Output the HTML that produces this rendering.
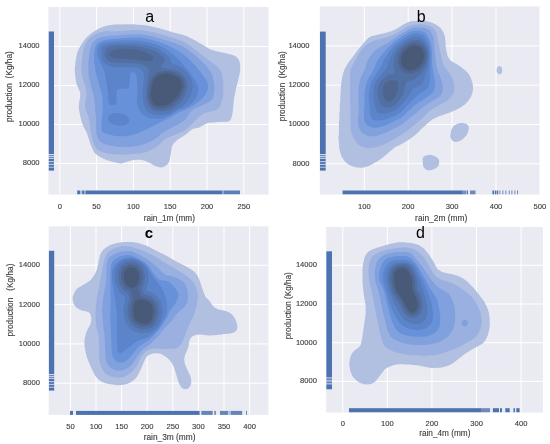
<!DOCTYPE html>
<html><head><meta charset="utf-8"><title>KDE plots</title>
<style>
html,body{margin:0;padding:0;background:#fff;}
body{width:550px;height:444px;overflow:hidden;}
svg{display:block;filter:blur(0.35px);}
.tk{font-family:"Liberation Sans",Arial,sans-serif;font-size:7.60px;fill:#383838;stroke:#444;stroke-width:0.12px;}
.lb{font-family:"Liberation Sans",Arial,sans-serif;font-size:8.30px;fill:#383838;stroke:#444;stroke-width:0.12px;}
.let{font-family:"Liberation Sans",Arial,sans-serif;font-size:16px;fill:#000;}
.letb{font-family:"Liberation Sans",Arial,sans-serif;font-size:15px;font-weight:bold;fill:#000;}
</style></head><body>
<svg width="550" height="444" viewBox="0 0 550 444">
<rect x="0" y="0" width="550" height="444" fill="#ffffff"/>
<defs>
<clipPath id="clipa"><rect x="48.50" y="7.00" width="220.10" height="187.50"/></clipPath>
<clipPath id="clipb"><rect x="319.80" y="6.50" width="220.00" height="188.10"/></clipPath>
<clipPath id="clipc"><rect x="48.70" y="226.30" width="219.70" height="188.60"/></clipPath>
<clipPath id="clipd"><rect x="326.20" y="227.00" width="216.80" height="185.50"/></clipPath>
</defs>
<rect x="48.50" y="7.00" width="220.10" height="187.50" fill="#eaeaf2"/>
<g clip-path="url(#clipa)">
<rect x="59.30" y="7.00" width="1.00" height="187.50" fill="#fff"/>
<rect x="96.10" y="7.00" width="1.00" height="187.50" fill="#fff"/>
<rect x="132.90" y="7.00" width="1.00" height="187.50" fill="#fff"/>
<rect x="169.70" y="7.00" width="1.00" height="187.50" fill="#fff"/>
<rect x="206.50" y="7.00" width="1.00" height="187.50" fill="#fff"/>
<rect x="243.30" y="7.00" width="1.00" height="187.50" fill="#fff"/>
<rect x="48.50" y="46.00" width="220.10" height="1.00" fill="#fff"/>
<rect x="48.50" y="84.97" width="220.10" height="1.00" fill="#fff"/>
<rect x="48.50" y="123.94" width="220.10" height="1.00" fill="#fff"/>
<rect x="48.50" y="162.91" width="220.10" height="1.00" fill="#fff"/>
<path fill="#b1bfe1" fill-rule="evenodd" d="M115.0 24.5 134.0 24.3 137.0 24.7 140.5 24.8 145.5 25.3 152.0 26.4 159.5 28.3 173.5 32.5 181.6 34.5 185.0 35.5 187.5 36.5 194.4 40.0 202.2 44.5 210.0 49.3 214.5 50.8 231.0 54.5 234.0 55.6 236.0 56.7 237.9 58.5 238.9 60.0 239.5 61.6 240.2 64.5 240.1 71.0 239.5 74.2 235.7 90.0 234.1 98.0 233.5 103.5 233.3 107.0 232.2 115.0 231.5 117.6 230.4 120.0 229.0 121.2 227.5 121.7 217.5 121.9 214.5 122.4 210.5 122.6 208.0 123.1 205.0 124.3 199.2 127.5 197.5 128.0 194.0 128.5 192.7 129.0 191.5 129.7 185.5 134.8 177.5 139.8 174.6 142.5 173.3 144.0 172.2 146.0 171.6 148.0 170.6 155.5 169.5 160.4 169.0 161.8 168.0 163.4 166.0 165.4 164.5 166.4 163.0 167.1 161.6 167.5 160.5 167.5 156.3 166.5 154.5 165.8 150.0 163.1 146.0 161.2 144.0 160.5 141.0 159.8 136.0 159.7 133.5 159.9 130.0 160.7 122.5 163.3 120.5 163.5 115.0 162.5 111.5 161.6 106.5 160.0 101.5 157.7 99.0 156.3 96.0 154.3 94.8 153.0 93.2 150.5 90.7 145.0 86.7 132.5 83.5 126.5 82.1 123.0 80.5 117.0 79.4 112.0 78.8 107.5 78.9 104.0 80.2 97.0 80.2 93.0 79.6 91.0 77.6 86.5 76.5 83.5 75.5 78.5 74.9 72.5 74.8 68.0 75.3 65.0 75.4 62.0 76.5 56.0 77.2 53.0 78.8 49.0 80.7 45.5 82.9 42.0 85.6 38.5 89.0 35.2 90.5 33.9 93.5 31.8 99.0 28.5 102.5 26.9 107.5 25.5Z"/>
<path fill="#9ab0e0" fill-rule="evenodd" d="M128.5 30.5 132.0 30.1 143.0 30.2 147.0 30.9 153.5 32.2 173.5 38.1 180.0 40.3 185.0 42.6 191.0 46.6 197.5 51.4 207.0 59.0 216.0 65.5 218.6 68.0 219.9 69.5 221.2 72.0 221.9 74.0 222.8 78.5 223.3 83.0 223.4 92.0 222.7 97.5 222.0 101.0 220.5 105.0 219.0 107.5 217.0 109.4 216.0 110.0 214.0 110.8 206.3 112.5 204.5 113.1 203.0 113.9 198.5 117.3 196.0 119.7 194.0 122.0 192.0 123.7 186.6 129.0 184.8 130.5 182.5 131.8 176.0 134.3 166.3 138.5 162.8 141.0 157.5 146.0 155.5 147.5 152.5 149.2 147.0 151.7 144.7 152.5 139.5 153.5 134.5 154.1 128.0 154.3 125.0 154.7 123.0 154.7 119.5 154.4 113.5 154.2 108.0 153.5 104.5 152.8 100.5 151.4 98.5 150.2 96.5 148.3 95.1 146.5 94.0 144.3 93.0 141.5 91.5 136.1 90.5 130.0 90.2 125.5 89.5 121.0 88.2 116.5 86.0 110.3 85.0 106.0 85.1 103.0 86.6 95.0 86.5 91.5 85.9 88.5 82.3 76.5 81.9 74.5 81.4 70.5 81.3 69.0 81.7 66.0 81.8 60.5 83.0 52.0 83.7 48.5 84.5 46.0 85.5 43.7 86.5 42.0 88.4 39.5 90.5 37.5 93.1 35.5 95.6 34.0 100.0 32.4 105.0 31.3 110.0 31.2 114.5 31.5 118.0 31.1 122.0 31.0 125.0 30.6Z"/>
<path fill="#80a0de" fill-rule="evenodd" d="M129.0 34.5 132.0 34.2 141.5 34.2 145.5 34.9 153.0 36.6 173.3 42.5 177.5 43.9 182.2 46.0 186.9 49.0 192.8 53.5 200.4 60.0 203.5 63.1 206.5 66.5 210.6 72.0 211.8 74.0 212.6 76.0 213.8 81.0 214.4 86.0 214.3 92.5 213.6 96.0 213.0 97.8 212.0 99.5 210.5 101.0 207.5 102.8 201.5 105.6 195.8 108.0 193.1 109.5 189.9 112.5 186.0 118.5 185.0 119.7 183.5 121.1 180.5 123.0 165.0 131.3 161.0 134.0 157.5 137.2 153.5 140.0 147.0 143.0 142.0 144.7 139.0 145.5 133.5 146.4 129.0 147.0 119.0 147.0 111.0 145.8 107.0 144.8 103.5 143.5 101.0 142.2 99.6 141.0 98.5 139.4 97.4 137.0 96.9 135.5 96.2 131.5 96.2 120.5 95.8 117.5 95.6 113.5 95.2 110.5 95.1 107.0 94.6 102.0 93.5 95.5 90.7 85.0 88.4 74.0 88.3 62.5 89.7 51.5 90.8 46.5 91.9 44.0 92.8 42.5 94.5 40.7 96.0 39.4 100.0 37.4 105.5 36.2 111.0 35.7 115.5 35.6 123.5 34.8Z"/>
<path fill="#6791d9" fill-rule="evenodd" d="M126.0 38.0 131.0 37.6 141.5 37.7 149.5 39.3 157.5 41.4 163.5 43.5 171.3 47.0 177.5 50.4 180.5 52.3 187.0 57.4 192.7 63.0 196.0 66.5 204.9 78.0 206.5 80.3 207.5 82.4 207.8 83.5 208.0 87.5 207.3 90.5 206.1 93.5 205.2 95.0 203.2 97.5 201.5 99.2 196.8 103.0 192.4 106.0 188.5 108.3 184.5 110.2 178.9 112.5 169.0 118.3 159.3 123.0 147.5 129.1 139.9 132.5 133.0 134.7 126.0 136.2 117.0 136.2 110.5 135.1 105.5 133.6 103.0 132.2 102.1 131.0 101.7 130.0 101.5 128.5 101.5 124.5 101.8 118.5 102.7 109.0 102.4 97.5 101.5 92.5 96.5 75.0 95.4 70.0 94.2 61.5 94.1 53.0 94.7 49.0 95.7 46.0 96.7 44.5 98.0 43.2 99.0 42.3 100.5 41.5 104.0 40.2 109.5 39.2 120.0 38.5 122.5 38.1Z"/>
<path fill="#5b84ca" fill-rule="evenodd" d="M122.5 40.5 136.0 40.4 144.5 41.4 151.5 43.0 156.5 44.5 162.2 47.0 168.0 50.5 173.3 54.5 179.9 61.0 188.7 71.0 194.3 79.0 195.8 81.5 197.4 84.5 197.9 86.0 198.4 88.5 198.4 90.5 198.1 92.0 197.2 95.0 195.7 98.5 194.8 100.0 193.2 102.0 190.2 104.5 186.3 107.0 183.5 108.3 178.5 110.1 168.8 116.0 165.0 117.6 161.5 118.5 158.0 118.8 154.5 118.8 149.5 117.9 146.5 116.8 143.0 114.6 141.1 113.0 138.9 109.5 137.8 106.5 137.2 103.5 137.0 100.0 137.0 98.0 137.4 94.5 137.3 80.0 136.7 76.5 136.0 74.5 135.4 73.5 134.5 72.7 133.0 72.3 131.6 72.5 131.0 73.0 130.5 73.8 130.0 75.3 129.7 77.5 129.5 85.5 129.0 87.0 128.0 88.0 126.0 88.7 119.5 88.8 118.5 89.0 117.6 89.5 116.9 90.5 116.6 91.5 116.5 101.5 116.0 103.4 115.0 104.4 113.5 105.1 111.5 105.1 110.0 104.4 109.0 102.9 108.2 99.5 107.9 93.5 107.5 91.0 107.2 86.5 105.8 77.5 104.6 72.5 103.4 69.0 102.5 67.0 99.9 62.5 98.2 58.0 97.5 55.5 97.2 53.0 97.6 48.5 98.3 46.5 99.5 44.9 101.0 43.8 104.0 42.6 107.0 41.9 110.5 41.4 116.0 40.9 120.0 40.8ZM118.5 113.0 120.5 113.2 123.5 114.0 125.5 115.0 127.6 116.5 128.8 118.5 129.2 120.5 128.9 122.0 127.7 123.5 126.0 124.7 123.5 125.6 121.5 125.8 117.0 125.6 114.5 125.0 112.1 124.0 110.5 123.0 109.0 121.6 108.0 119.8 107.8 118.5 108.2 117.0 109.5 115.4 111.0 114.3 113.0 113.5 114.5 113.2Z"/>
<path fill="#567ab7" fill-rule="evenodd" d="M113.5 43.5 118.0 43.2 133.0 43.2 139.5 43.8 145.5 44.8 152.0 46.5 155.5 47.7 160.0 49.9 165.0 53.3 167.4 55.5 169.2 57.5 170.3 59.5 171.1 62.0 172.0 63.2 173.5 64.1 177.5 65.6 179.5 66.5 183.5 69.1 187.5 72.9 190.5 77.6 191.5 80.0 192.4 83.0 192.6 85.5 192.6 88.5 191.7 92.5 190.9 95.0 189.3 98.5 187.6 101.0 185.5 103.5 182.1 106.5 171.0 112.7 167.0 114.1 165.0 114.5 161.0 115.0 155.5 114.7 153.0 114.2 151.0 113.5 148.2 112.0 146.4 110.0 145.1 107.5 143.8 104.0 142.8 99.5 142.7 89.5 144.0 77.5 143.5 74.0 143.2 72.5 142.5 71.0 141.5 69.5 140.5 68.7 139.3 68.0 137.0 67.4 129.0 67.3 126.0 67.1 117.0 67.3 112.0 66.5 108.0 65.2 106.0 64.3 104.0 62.7 102.6 60.5 101.4 57.0 101.1 53.5 101.4 49.5 102.2 47.5 103.5 46.0 105.5 44.9 109.5 43.9Z"/>
<path fill="#526fa4" fill-rule="evenodd" d="M117.0 45.5 120.5 45.3 125.0 45.6 132.0 45.7 134.5 46.1 138.0 46.3 144.0 47.5 150.5 49.5 154.5 51.1 159.0 53.5 162.5 56.0 164.8 58.5 165.1 59.0 165.2 60.0 164.5 61.3 161.1 65.5 160.9 66.5 161.0 67.0 161.4 67.5 162.5 68.1 165.5 68.7 171.5 69.3 173.5 69.7 175.5 70.3 178.5 71.7 181.0 73.2 183.4 75.5 185.3 78.0 186.6 80.5 187.4 84.0 187.5 86.0 187.4 88.0 186.7 91.0 185.6 94.0 184.5 96.5 182.3 100.0 180.0 102.8 175.0 106.9 172.0 108.7 169.5 109.9 166.0 110.7 161.0 111.3 156.0 110.9 153.5 110.2 151.5 109.0 149.8 107.0 148.4 104.5 146.9 100.5 146.3 97.5 146.2 92.5 146.6 87.0 147.2 82.5 148.5 76.0 148.9 73.0 148.8 70.5 148.1 68.5 147.0 67.0 144.9 65.5 143.0 64.7 140.0 64.0 136.0 63.4 126.5 63.3 123.0 62.9 113.0 62.7 110.5 62.0 107.8 60.5 106.7 59.5 105.9 58.5 105.2 57.0 104.5 55.0 104.5 54.0 104.7 52.5 105.7 50.0 106.4 49.0 107.4 48.0 109.5 46.8 112.4 46.0Z"/>
<path fill="#4e6590" fill-rule="evenodd" d="M117.5 49.0 122.0 48.6 126.0 48.9 131.0 49.0 137.8 50.0 142.1 51.0 147.4 53.0 150.7 55.0 152.4 56.5 153.1 57.5 153.3 59.0 153.1 60.0 152.5 60.7 151.6 61.0 148.5 61.2 138.5 59.9 135.0 59.7 132.0 59.3 123.0 59.1 120.5 58.7 116.5 58.5 113.4 58.0 111.3 57.0 110.1 56.0 109.5 54.7 109.6 53.5 110.8 52.0 112.7 50.5 115.0 49.5ZM164.5 71.0 168.5 71.2 173.5 72.2 177.5 74.0 180.0 75.6 182.0 77.6 183.7 80.5 184.7 84.5 184.7 86.0 184.5 87.5 183.8 90.0 182.6 93.0 181.0 96.0 178.4 99.5 172.6 105.0 170.5 106.4 169.0 107.1 164.5 108.4 161.0 108.7 156.0 108.5 154.5 108.0 153.5 107.4 151.1 105.0 150.0 103.1 148.6 99.0 148.1 96.5 148.1 93.5 149.5 84.0 150.5 80.5 151.3 78.5 152.9 76.0 155.0 73.8 156.5 72.8 158.5 71.9 161.0 71.4Z"/>
<path fill="#495978" fill-rule="evenodd" d="M162.5 74.0 164.5 73.6 166.5 73.6 170.0 74.1 173.4 75.0 177.2 77.0 179.2 78.5 180.9 81.0 181.8 84.0 181.8 86.5 181.1 89.0 180.2 91.5 178.5 94.5 176.0 97.8 171.2 102.5 168.0 104.5 164.8 105.5 162.0 105.9 157.0 105.8 156.0 105.6 155.0 105.1 153.3 103.5 152.4 102.0 151.3 99.0 150.7 96.5 150.6 94.5 151.7 87.0 152.3 84.0 153.1 81.5 153.9 80.0 155.0 78.3 156.5 76.8 158.5 75.4 160.4 74.5Z"/>
<rect x="48.50" y="31.50" width="5.50" height="122.50" fill="#4c72b0" fill-opacity="1.00"/>
<rect x="48.50" y="154.80" width="5.50" height="1.50" fill="#4c72b0" fill-opacity="0.80"/>
<rect x="48.50" y="157.00" width="5.50" height="1.20" fill="#4c72b0" fill-opacity="0.80"/>
<rect x="48.50" y="158.90" width="5.50" height="2.40" fill="#4c72b0" fill-opacity="1.00"/>
<rect x="48.50" y="162.00" width="5.50" height="2.00" fill="#4c72b0" fill-opacity="0.90"/>
<rect x="48.50" y="164.70" width="5.50" height="2.10" fill="#4c72b0" fill-opacity="1.00"/>
<rect x="48.50" y="167.50" width="5.50" height="3.10" fill="#4c72b0" fill-opacity="1.00"/>
<rect x="77.20" y="190.50" width="2.80" height="4.00" fill="#4c72b0" fill-opacity="1.00"/>
<rect x="80.00" y="190.50" width="2.20" height="4.00" fill="#4c72b0" fill-opacity="0.35"/>
<rect x="82.20" y="190.50" width="1.80" height="4.00" fill="#4c72b0" fill-opacity="1.00"/>
<rect x="84.00" y="190.50" width="1.50" height="4.00" fill="#4c72b0" fill-opacity="0.50"/>
<rect x="85.50" y="190.50" width="136.80" height="4.00" fill="#4c72b0" fill-opacity="1.00"/>
<rect x="222.30" y="190.50" width="1.20" height="4.00" fill="#4c72b0" fill-opacity="0.50"/>
<rect x="223.50" y="190.50" width="16.50" height="4.00" fill="#4c72b0" fill-opacity="0.90"/>
</g>
<text x="59.80" y="209.40" text-anchor="middle" class="tk">0</text>
<text x="96.60" y="209.40" text-anchor="middle" class="tk">50</text>
<text x="133.40" y="209.40" text-anchor="middle" class="tk">100</text>
<text x="170.20" y="209.40" text-anchor="middle" class="tk">150</text>
<text x="207.00" y="209.40" text-anchor="middle" class="tk">200</text>
<text x="243.80" y="209.40" text-anchor="middle" class="tk">250</text>
<text x="39.60" y="48.40" text-anchor="end" class="tk">14000</text>
<text x="39.60" y="87.37" text-anchor="end" class="tk">12000</text>
<text x="39.60" y="126.34" text-anchor="end" class="tk">10000</text>
<text x="39.60" y="165.31" text-anchor="end" class="tk">8000</text>
<text x="143.70" y="221.00" class="lb" textLength="51.2" lengthAdjust="spacingAndGlyphs">rain_1m (mm)</text>
<text transform="translate(12.30,122.00) rotate(-90)" x="0" y="0" class="lb" textLength="70.9" lengthAdjust="spacingAndGlyphs" xml:space="preserve">production  (Kg/ha)</text>
<text x="145.20" y="21.90" class="let">a</text>
<rect x="319.80" y="6.50" width="220.00" height="188.10" fill="#eaeaf2"/>
<g clip-path="url(#clipb)">
<rect x="363.80" y="6.50" width="1.00" height="188.10" fill="#fff"/>
<rect x="407.70" y="6.50" width="1.00" height="188.10" fill="#fff"/>
<rect x="451.60" y="6.50" width="1.00" height="188.10" fill="#fff"/>
<rect x="495.50" y="6.50" width="1.00" height="188.10" fill="#fff"/>
<rect x="539.40" y="6.50" width="1.00" height="188.10" fill="#fff"/>
<rect x="319.80" y="45.40" width="220.00" height="1.00" fill="#fff"/>
<rect x="319.80" y="84.67" width="220.00" height="1.00" fill="#fff"/>
<rect x="319.80" y="123.94" width="220.00" height="1.00" fill="#fff"/>
<rect x="319.80" y="163.21" width="220.00" height="1.00" fill="#fff"/>
<path fill="#b1bfe1" fill-rule="evenodd" d="M415.3 21.0 417.8 20.6 422.3 20.6 426.8 21.2 430.8 22.2 433.3 23.2 436.6 25.0 439.8 27.3 441.3 29.0 443.3 32.0 444.7 36.0 445.4 40.0 445.5 44.5 446.2 50.0 447.3 55.0 448.8 58.3 450.0 60.0 451.3 61.1 458.1 65.0 461.7 67.5 464.8 69.9 468.3 73.6 469.8 75.9 470.8 78.0 472.3 82.4 472.9 85.0 473.0 86.5 472.9 91.0 471.3 96.0 470.3 98.0 468.2 101.0 465.3 104.1 463.6 105.5 460.6 107.5 454.7 110.5 448.5 113.0 439.8 115.9 436.3 117.4 432.3 119.6 427.9 123.0 425.3 125.5 422.4 128.0 415.8 134.5 413.3 136.5 409.8 139.0 405.1 142.0 399.8 144.9 396.3 146.5 394.3 147.8 384.0 156.5 380.8 159.0 377.8 160.9 368.8 166.0 363.7 167.5 361.3 167.7 357.8 167.5 354.3 166.9 350.4 165.5 348.3 164.3 345.4 162.0 342.8 158.6 341.4 156.0 339.8 151.0 339.2 147.5 338.9 142.0 338.5 139.0 338.5 136.5 338.9 133.5 338.9 123.0 339.3 119.5 339.4 113.5 339.8 110.0 339.8 104.0 340.3 100.5 340.3 95.5 340.7 92.5 340.8 87.0 341.4 82.0 342.0 78.0 343.3 72.5 344.7 69.0 348.1 63.0 359.0 48.5 365.8 40.5 369.3 37.3 370.8 36.4 372.3 35.9 385.3 33.1 391.3 31.3 395.3 29.4 399.5 27.0 403.8 24.2 407.3 22.5 409.3 21.8 411.8 21.3ZM498.3 66.4 499.3 66.0 500.8 66.4 501.7 67.5 502.1 68.5 502.2 71.0 501.9 72.5 500.8 73.9 499.8 74.3 498.8 74.3 497.8 73.6 497.1 72.5 496.6 71.0 496.6 70.0 496.9 68.5 497.6 67.0ZM460.3 123.0 462.8 123.0 464.3 123.2 466.3 124.0 467.8 125.0 468.6 126.5 468.7 128.0 468.6 130.0 467.8 132.6 466.9 134.5 465.8 136.0 464.0 138.0 461.5 140.0 459.6 141.0 457.3 141.7 455.3 141.9 453.8 141.6 452.8 141.0 451.9 140.0 450.8 138.0 450.5 137.0 450.4 134.5 451.3 130.1 452.8 127.0 453.8 125.8 457.1 124.0 458.3 123.5ZM428.3 155.0 430.3 154.8 431.3 154.9 434.7 156.0 437.8 158.1 438.8 159.4 439.1 160.5 439.1 163.0 438.9 164.5 438.3 165.9 437.5 167.0 435.3 168.5 431.8 169.9 430.3 170.3 427.8 170.3 426.8 170.0 425.9 169.5 424.8 168.5 423.8 167.2 423.3 166.3 423.0 165.0 422.6 159.0 423.0 157.5 423.8 156.6 424.8 156.0 426.3 155.4Z"/>
<path fill="#9ab0e0" fill-rule="evenodd" d="M417.8 24.5 419.8 24.3 424.8 24.8 429.8 26.1 432.3 27.4 433.6 28.5 434.9 30.0 436.1 32.0 436.7 33.5 437.1 35.5 438.1 41.5 440.4 52.0 441.7 59.5 442.3 62.0 444.6 66.5 450.2 74.5 452.3 78.5 453.5 82.0 454.2 85.5 454.3 89.0 454.0 91.5 453.3 93.5 451.3 96.5 447.2 100.5 444.9 102.0 434.3 107.9 430.8 110.0 427.8 112.5 425.8 114.7 422.0 118.5 409.3 129.2 403.8 133.1 395.2 138.5 390.8 141.0 383.8 144.5 378.8 146.4 374.3 147.6 368.8 148.2 365.3 147.7 361.3 146.4 359.3 145.2 357.8 144.0 356.5 142.5 354.5 139.5 353.1 137.0 352.0 134.5 351.1 131.5 350.5 128.5 350.4 108.5 350.0 104.0 350.1 78.0 349.8 74.0 349.9 72.5 350.5 70.0 351.8 66.4 358.3 54.8 361.3 50.1 365.3 45.8 368.3 43.5 371.8 41.5 374.4 40.5 386.3 37.6 391.8 35.5 395.8 33.5 400.8 30.7 405.8 27.5 409.3 25.9 413.8 24.8Z"/>
<path fill="#80a0de" fill-rule="evenodd" d="M414.8 27.4 422.3 27.5 424.8 28.0 426.8 28.7 428.8 29.8 430.3 31.0 431.3 32.5 432.5 35.0 433.3 37.5 434.0 41.5 434.3 47.0 434.7 50.0 435.3 57.5 435.8 62.0 436.5 66.0 438.3 72.0 441.0 79.0 442.6 85.0 442.9 88.5 442.5 91.0 441.9 93.0 440.3 95.5 438.8 97.1 423.4 106.5 415.3 114.1 411.5 116.5 408.3 119.4 402.8 123.7 398.3 126.5 389.3 131.0 385.3 132.7 376.8 136.0 374.8 136.3 369.8 136.3 368.3 136.0 365.8 135.1 362.8 133.2 360.7 131.0 359.0 128.0 358.1 124.5 358.0 119.5 358.8 111.0 358.8 105.5 358.4 101.5 358.4 89.0 359.1 84.0 360.1 79.5 361.0 77.0 364.8 69.5 367.3 61.0 368.4 59.0 371.5 54.5 375.4 50.5 377.3 48.8 387.3 42.9 398.3 35.7 406.8 30.4 410.8 28.5Z"/>
<path fill="#6791d9" fill-rule="evenodd" d="M413.3 30.9 415.3 30.7 419.3 30.7 421.8 31.2 423.8 32.0 425.8 33.4 427.2 35.0 429.0 38.5 429.9 40.5 431.1 45.0 431.8 49.0 432.1 55.5 432.1 62.0 432.4 65.0 432.5 68.0 434.6 79.5 435.1 84.0 435.0 87.0 433.9 90.5 432.6 92.5 429.8 95.2 426.3 97.8 417.8 103.0 413.1 106.5 407.8 111.5 405.2 114.5 402.3 116.7 398.8 119.0 388.8 124.0 384.3 125.8 379.8 127.1 376.8 127.7 374.8 127.8 371.3 127.2 369.3 126.5 367.0 125.0 365.3 122.6 364.5 120.5 364.1 117.5 364.1 110.0 364.5 106.0 364.5 93.0 365.0 89.5 366.4 83.5 368.1 79.0 369.2 77.0 373.3 70.5 376.0 63.5 377.5 60.5 379.8 57.0 385.3 50.5 391.9 44.0 395.6 41.0 399.3 38.3 407.3 33.3 410.8 31.6Z"/>
<path fill="#5b84ca" fill-rule="evenodd" d="M413.3 33.9 415.8 33.6 418.8 33.8 421.3 34.4 423.3 35.5 424.8 36.9 426.9 40.0 428.1 42.5 429.3 46.0 430.3 50.0 430.5 57.0 430.2 63.0 430.3 65.5 430.0 69.0 429.7 80.5 429.2 84.5 428.6 86.5 427.7 88.0 426.3 89.4 419.4 94.0 414.8 98.0 409.5 103.0 402.1 111.0 400.3 112.5 397.8 114.2 395.3 115.5 390.8 117.4 386.8 118.9 382.8 120.0 376.8 120.6 375.3 120.5 373.3 120.0 372.3 119.4 371.6 118.5 370.9 117.0 370.5 115.0 369.8 111.0 368.8 96.5 368.9 93.5 369.6 88.5 370.7 84.0 372.0 80.5 373.3 78.2 376.6 73.5 378.8 70.0 381.2 65.5 383.5 60.5 385.5 57.0 388.5 52.5 393.0 47.0 396.8 43.4 402.8 38.9 408.3 35.8 411.3 34.5Z"/>
<path fill="#567ab7" fill-rule="evenodd" d="M413.8 37.0 416.3 36.8 418.3 36.9 420.3 37.5 422.3 38.7 424.8 41.3 426.3 43.7 427.6 46.5 428.7 50.0 429.2 54.0 429.3 56.5 428.2 65.5 425.2 76.0 423.3 80.8 421.8 83.5 420.8 84.6 418.5 86.0 414.3 87.9 413.3 88.6 408.5 96.0 403.6 102.5 399.3 107.3 397.3 109.0 395.3 110.3 392.8 111.4 390.3 112.3 387.3 113.0 384.8 113.4 382.8 113.5 379.8 113.4 378.3 113.0 377.6 112.5 377.0 111.5 375.2 106.5 373.9 101.0 373.4 97.0 373.4 92.0 373.7 89.0 374.5 85.0 375.6 82.0 376.8 79.9 378.8 77.3 387.0 68.0 388.2 63.0 390.5 57.0 393.3 52.0 396.2 48.0 398.8 45.4 402.3 42.4 404.3 41.0 409.3 38.4 411.8 37.4Z"/>
<path fill="#526fa4" fill-rule="evenodd" d="M414.3 40.0 416.3 39.9 417.8 40.1 419.3 40.6 421.3 41.7 422.8 42.9 423.8 43.9 425.3 46.0 426.3 47.8 427.4 51.0 428.0 56.0 427.3 61.0 426.5 64.0 425.6 66.5 424.8 68.0 421.8 72.6 419.8 75.0 418.3 76.3 413.3 79.8 411.3 80.5 407.8 81.1 406.8 81.6 406.1 83.0 404.1 91.0 402.3 95.5 399.3 100.5 397.8 102.3 395.8 104.4 393.3 106.1 391.3 106.9 389.8 107.3 387.3 107.6 385.8 107.6 384.3 107.3 382.8 106.8 381.3 105.5 380.1 103.5 378.7 100.0 378.2 97.5 377.7 92.0 377.7 90.0 378.4 86.0 379.3 83.4 380.1 82.0 381.3 80.5 382.8 78.9 384.8 77.4 388.3 75.1 393.3 73.4 394.1 73.0 394.5 72.5 394.6 71.5 394.0 68.5 393.6 64.0 393.7 62.5 394.3 59.0 395.0 56.5 396.6 53.0 399.1 49.0 403.7 44.5 405.8 43.0 408.3 41.7 410.3 40.9 412.3 40.3Z"/>
<path fill="#4e6590" fill-rule="evenodd" d="M412.8 43.0 415.8 42.8 417.8 43.2 420.8 44.5 422.8 46.0 424.3 47.9 425.7 51.0 426.5 54.5 426.6 56.5 425.8 60.4 424.7 63.5 422.9 66.5 420.3 69.3 417.8 71.2 415.3 72.3 411.8 73.4 408.8 73.5 405.8 72.7 403.8 71.8 402.3 70.7 400.7 69.0 399.5 67.0 398.2 63.0 397.9 61.0 398.0 59.0 398.6 56.5 399.7 53.5 401.0 51.0 402.1 49.5 405.3 46.4 406.8 45.2 409.8 43.8ZM390.3 80.4 395.3 80.3 396.3 80.6 397.3 81.3 397.8 82.0 398.1 83.0 397.9 89.0 396.8 93.8 395.8 95.9 394.3 98.3 392.8 100.0 391.4 101.0 389.8 101.6 388.3 101.7 387.1 101.5 385.8 100.8 385.0 100.0 384.3 98.7 383.8 97.5 383.3 95.7 382.6 90.0 383.3 86.0 384.3 84.0 385.3 83.0 386.8 82.0 388.8 80.9Z"/>
<path fill="#495978" fill-rule="evenodd" d="M412.3 45.9 414.3 45.6 416.3 45.7 418.8 46.5 420.8 47.8 422.2 49.5 423.3 51.6 424.1 55.0 424.1 56.5 423.3 60.0 422.3 62.4 420.8 64.7 418.8 66.8 416.5 68.5 414.4 69.5 411.8 70.3 409.3 70.4 407.7 70.0 405.4 69.0 404.3 68.2 403.2 67.0 402.2 65.5 401.3 63.0 400.9 61.5 400.9 59.5 401.3 57.5 402.1 55.0 403.3 52.6 404.1 51.5 407.8 47.9 410.3 46.5Z"/>
<rect x="319.80" y="31.60" width="5.90" height="122.40" fill="#4c72b0" fill-opacity="1.00"/>
<rect x="319.80" y="154.80" width="5.90" height="1.50" fill="#4c72b0" fill-opacity="0.80"/>
<rect x="319.80" y="157.00" width="5.90" height="1.20" fill="#4c72b0" fill-opacity="0.80"/>
<rect x="319.80" y="158.90" width="5.90" height="2.40" fill="#4c72b0" fill-opacity="1.00"/>
<rect x="319.80" y="162.00" width="5.90" height="2.00" fill="#4c72b0" fill-opacity="0.90"/>
<rect x="319.80" y="164.70" width="5.90" height="2.10" fill="#4c72b0" fill-opacity="1.00"/>
<rect x="319.80" y="167.50" width="5.90" height="3.10" fill="#4c72b0" fill-opacity="1.00"/>
<rect x="342.60" y="190.50" width="120.10" height="4.10" fill="#4c72b0" fill-opacity="1.00"/>
<rect x="462.70" y="190.50" width="3.80" height="4.10" fill="#4c72b0" fill-opacity="0.75"/>
<rect x="467.00" y="190.50" width="1.00" height="4.10" fill="#4c72b0" fill-opacity="1.00"/>
<rect x="470.00" y="190.50" width="5.50" height="4.10" fill="#4c72b0" fill-opacity="0.80"/>
<rect x="492.40" y="190.50" width="1.60" height="4.10" fill="#4c72b0" fill-opacity="1.00"/>
<rect x="494.80" y="190.50" width="1.50" height="4.10" fill="#4c72b0" fill-opacity="1.00"/>
<rect x="496.80" y="190.50" width="1.40" height="4.10" fill="#4c72b0" fill-opacity="1.00"/>
<rect x="499.50" y="190.50" width="0.80" height="4.10" fill="#4c72b0" fill-opacity="1.00"/>
<rect x="502.50" y="190.50" width="0.80" height="4.10" fill="#4c72b0" fill-opacity="1.00"/>
<rect x="505.50" y="190.50" width="0.80" height="4.10" fill="#4c72b0" fill-opacity="1.00"/>
<rect x="508.80" y="190.50" width="0.80" height="4.10" fill="#4c72b0" fill-opacity="1.00"/>
<rect x="511.50" y="190.50" width="0.80" height="4.10" fill="#4c72b0" fill-opacity="1.00"/>
<rect x="514.50" y="190.50" width="0.80" height="4.10" fill="#4c72b0" fill-opacity="1.00"/>
<rect x="517.00" y="190.50" width="0.80" height="4.10" fill="#4c72b0" fill-opacity="1.00"/>
</g>
<text x="364.30" y="209.20" text-anchor="middle" class="tk">100</text>
<text x="408.20" y="209.20" text-anchor="middle" class="tk">200</text>
<text x="452.10" y="209.20" text-anchor="middle" class="tk">300</text>
<text x="496.00" y="209.20" text-anchor="middle" class="tk">400</text>
<text x="539.90" y="209.20" text-anchor="middle" class="tk">500</text>
<text x="309.50" y="47.80" text-anchor="end" class="tk">14000</text>
<text x="309.50" y="87.07" text-anchor="end" class="tk">12000</text>
<text x="309.50" y="126.34" text-anchor="end" class="tk">10000</text>
<text x="309.50" y="165.61" text-anchor="end" class="tk">8000</text>
<text x="415.10" y="220.50" class="lb" textLength="52.2" lengthAdjust="spacingAndGlyphs">rain_2m (mm)</text>
<text transform="translate(285.00,121.20) rotate(-90)" x="0" y="0" class="lb" textLength="70.0" lengthAdjust="spacingAndGlyphs" xml:space="preserve">production  (Kg/ha)</text>
<text x="416.80" y="21.60" class="let">b</text>
<rect x="48.70" y="226.30" width="219.70" height="188.60" fill="#eaeaf2"/>
<g clip-path="url(#clipc)">
<rect x="69.90" y="226.30" width="1.00" height="188.60" fill="#fff"/>
<rect x="95.50" y="226.30" width="1.00" height="188.60" fill="#fff"/>
<rect x="121.10" y="226.30" width="1.00" height="188.60" fill="#fff"/>
<rect x="146.70" y="226.30" width="1.00" height="188.60" fill="#fff"/>
<rect x="172.30" y="226.30" width="1.00" height="188.60" fill="#fff"/>
<rect x="197.90" y="226.30" width="1.00" height="188.60" fill="#fff"/>
<rect x="223.50" y="226.30" width="1.00" height="188.60" fill="#fff"/>
<rect x="249.10" y="226.30" width="1.00" height="188.60" fill="#fff"/>
<rect x="48.70" y="264.80" width="219.70" height="1.00" fill="#fff"/>
<rect x="48.70" y="304.10" width="219.70" height="1.00" fill="#fff"/>
<rect x="48.70" y="343.40" width="219.70" height="1.00" fill="#fff"/>
<rect x="48.70" y="382.70" width="219.70" height="1.00" fill="#fff"/>
<path fill="#b1bfe1" fill-rule="evenodd" d="M122.2 242.3 125.2 241.9 132.7 242.1 138.2 243.1 145.2 245.3 149.2 246.9 159.7 252.4 164.7 254.8 176.7 261.7 186.7 266.8 191.2 269.4 193.7 271.3 195.2 272.8 196.6 274.3 197.7 275.9 199.2 279.2 202.5 289.3 205.2 296.3 206.2 297.7 208.7 300.1 213.2 306.2 215.2 308.0 217.2 309.0 218.7 309.5 224.7 310.8 227.5 311.8 229.6 312.8 231.7 314.3 232.7 315.3 234.7 318.2 235.7 320.0 236.9 323.8 237.4 326.8 237.3 328.3 236.7 329.9 235.7 331.2 234.3 332.3 233.2 332.8 229.7 333.6 224.7 333.9 214.2 335.3 208.2 335.4 201.7 334.6 196.2 334.8 194.7 335.2 193.2 335.9 191.9 336.8 190.6 338.3 189.9 339.3 189.3 340.8 188.8 344.8 188.2 347.4 185.0 355.3 184.2 359.3 184.6 362.3 185.4 365.3 186.4 367.8 190.2 375.8 190.7 377.3 191.2 379.9 191.3 382.3 190.7 384.9 189.7 386.8 188.7 387.9 187.6 388.8 186.7 389.1 185.2 389.2 183.2 388.8 181.7 387.7 180.2 385.6 178.7 382.8 178.2 381.4 175.9 373.3 173.8 366.8 172.0 363.3 170.2 360.8 167.7 358.3 165.0 356.3 161.7 354.3 159.2 353.4 155.2 353.2 153.2 353.4 149.7 354.6 147.2 356.3 146.0 357.8 144.7 360.3 140.6 369.8 138.7 373.5 137.2 376.2 135.7 378.2 134.2 379.8 131.2 382.0 127.7 383.7 124.7 384.6 119.7 385.3 117.2 385.3 107.7 383.8 104.7 383.0 102.2 382.1 99.4 380.3 96.2 377.1 94.6 374.8 91.7 369.0 88.2 360.8 86.9 357.3 85.5 351.8 84.4 344.8 84.5 339.8 85.7 334.2 86.7 331.2 90.2 324.5 91.1 321.8 91.3 318.8 91.0 316.3 90.5 314.8 89.7 313.3 88.2 312.0 86.7 311.4 84.2 311.1 81.1 310.3 77.7 308.5 75.2 306.5 73.9 304.3 73.2 302.0 72.6 299.3 72.7 296.8 74.7 292.0 75.7 290.3 76.7 289.1 78.4 287.8 89.2 281.2 91.7 278.8 94.2 275.3 96.1 271.8 97.2 268.4 100.0 255.3 101.4 252.3 103.2 249.8 106.7 247.0 110.2 245.1 116.7 243.1 119.7 242.5Z"/>
<path fill="#9ab0e0" fill-rule="evenodd" d="M121.7 246.3 127.7 246.2 132.2 247.0 142.1 250.3 147.2 252.5 154.6 256.3 168.7 265.1 176.2 269.3 185.7 275.2 188.5 277.3 191.6 280.3 193.7 282.8 194.6 284.3 196.2 287.8 197.1 291.3 197.7 294.5 197.8 298.8 197.3 301.8 195.5 309.8 193.3 316.3 187.3 329.3 183.7 339.0 182.7 341.2 181.6 343.3 179.2 346.4 177.2 347.9 176.2 348.3 174.7 348.7 166.2 348.7 163.2 349.1 159.7 349.1 153.7 348.5 151.2 348.8 148.7 349.8 145.2 352.0 142.7 354.4 141.7 356.0 135.7 367.5 134.2 369.6 131.7 372.1 127.7 375.0 123.7 376.9 120.7 377.5 115.7 377.6 113.2 377.1 110.5 376.3 108.2 375.2 105.7 373.5 104.4 372.3 102.5 369.8 101.7 368.3 101.0 366.3 99.9 362.3 99.2 358.8 99.1 353.8 99.3 351.3 99.0 348.3 98.9 339.8 98.4 335.3 96.7 328.8 96.2 325.3 95.7 319.8 95.6 311.8 95.8 309.3 95.9 305.8 97.0 297.3 99.0 287.8 99.9 281.8 101.7 273.2 103.4 263.8 105.1 257.3 106.2 254.8 107.2 253.3 108.5 251.8 110.2 250.4 112.2 249.3 114.7 248.2 118.7 246.9Z"/>
<path fill="#80a0de" fill-rule="evenodd" d="M124.7 251.3 127.7 251.0 131.2 251.2 133.7 252.0 138.4 254.3 146.2 258.6 151.7 262.5 157.7 267.6 161.6 271.8 164.2 274.1 166.2 275.0 171.2 276.1 175.9 277.8 179.2 279.3 181.7 280.8 183.5 282.3 184.4 283.3 186.0 285.8 186.9 287.8 187.9 292.8 187.9 298.8 187.7 300.4 187.0 302.8 186.0 304.8 185.0 306.3 183.2 308.1 179.4 311.3 176.2 314.6 172.5 319.8 163.2 329.7 158.4 336.3 157.0 337.8 150.6 343.8 143.2 349.3 140.2 352.3 138.4 354.8 133.7 362.1 131.2 365.3 129.7 366.7 128.2 367.7 124.2 369.7 121.7 370.4 117.7 370.5 116.2 370.3 113.7 369.6 112.2 368.8 110.2 367.4 109.1 366.3 107.8 364.3 107.0 362.8 106.3 360.8 105.6 357.3 105.5 353.3 105.1 349.8 105.0 342.3 104.6 339.3 104.5 334.8 103.6 328.8 102.6 319.3 102.5 315.8 102.1 312.8 102.1 309.8 102.5 306.8 102.7 302.8 103.7 294.3 105.3 285.8 106.3 278.3 106.6 265.3 107.7 260.1 108.6 258.3 109.5 257.3 111.7 255.4 113.7 254.2 116.7 252.9 119.2 252.1 121.7 251.6Z"/>
<path fill="#6791d9" fill-rule="evenodd" d="M124.7 255.2 128.7 254.9 131.2 255.2 134.3 256.8 138.7 258.6 144.2 262.1 146.7 264.1 148.8 266.3 152.7 272.2 155.2 275.4 158.4 278.8 160.0 279.8 161.2 280.2 166.2 280.8 167.9 281.3 169.6 282.3 172.2 284.8 175.2 288.3 177.2 291.4 178.2 293.8 178.3 295.8 178.1 297.3 177.7 298.8 175.5 303.3 173.9 305.8 170.7 309.5 169.7 311.0 168.9 312.8 168.0 315.8 167.4 317.3 164.2 321.9 161.4 326.3 158.7 330.1 152.2 337.0 149.7 339.3 141.2 344.9 138.9 346.8 137.2 348.6 129.7 357.8 127.7 359.8 126.2 360.8 123.7 361.9 121.7 362.4 119.7 362.5 118.3 362.3 117.2 361.9 116.1 361.3 115.1 360.3 112.8 356.8 111.9 352.8 111.7 348.8 111.4 345.8 111.3 338.8 110.9 335.3 110.8 326.8 110.4 322.8 110.3 310.3 110.7 305.8 110.3 279.8 110.3 271.8 111.0 265.3 112.0 262.8 113.4 260.8 115.2 259.3 118.7 257.1 121.7 256.0Z"/>
<path fill="#5b84ca" fill-rule="evenodd" d="M127.2 257.8 129.7 257.4 131.7 257.5 135.2 258.5 137.7 259.4 139.2 260.2 143.2 262.8 145.4 264.8 147.3 266.8 149.2 269.8 153.5 277.3 160.7 286.6 163.7 291.8 165.4 296.3 166.0 298.8 166.9 304.3 167.2 308.8 166.4 314.3 165.5 316.8 158.7 327.9 157.2 329.8 154.7 332.2 151.2 335.1 148.2 337.1 146.2 337.9 140.2 339.8 138.0 340.8 134.7 342.7 131.2 345.2 127.2 348.8 123.2 351.8 121.2 353.0 119.7 353.3 118.7 352.8 118.2 352.3 117.7 351.1 117.2 348.6 116.9 334.8 117.2 330.3 116.9 311.8 116.0 304.3 112.5 283.8 112.0 279.3 112.0 272.3 112.7 269.3 113.7 266.9 114.7 265.3 117.2 262.6 119.4 260.8 121.7 259.5 124.2 258.5Z"/>
<path fill="#567ab7" fill-rule="evenodd" d="M127.7 259.2 129.7 258.9 131.7 258.9 133.9 259.3 137.0 260.3 138.9 261.3 142.6 263.8 145.3 266.8 146.2 268.3 147.3 270.8 148.3 274.8 148.6 276.8 148.6 279.3 148.5 280.8 147.6 285.3 146.4 288.8 146.6 289.8 147.0 290.3 147.7 290.7 152.2 292.7 156.2 295.6 158.2 297.7 159.6 299.8 160.4 301.3 161.3 303.8 162.5 309.3 162.5 313.3 161.5 317.8 159.7 322.8 158.7 324.7 157.2 327.0 155.2 329.2 152.7 331.0 149.2 332.4 145.7 333.1 141.7 333.2 138.7 332.7 136.7 332.1 133.2 330.7 130.2 328.7 128.0 326.3 125.9 322.8 124.4 318.3 123.7 314.3 123.7 307.8 124.3 303.8 125.2 299.8 125.2 298.3 124.7 296.8 124.2 296.0 121.2 293.5 119.7 291.8 117.7 288.6 116.5 286.3 115.5 283.3 114.7 279.3 114.6 274.3 115.2 270.9 116.1 268.3 117.2 266.3 119.1 263.8 120.7 262.3 122.9 260.8 125.4 259.8Z"/>
<path fill="#526fa4" fill-rule="evenodd" d="M128.7 261.7 130.7 261.5 132.7 261.6 136.2 262.7 138.2 263.7 139.9 264.8 140.9 265.8 142.0 267.3 143.1 269.3 144.0 271.8 144.8 274.8 145.0 276.8 144.9 279.3 144.5 281.8 143.5 284.8 142.0 288.3 142.1 289.8 142.8 292.3 143.4 293.3 144.0 293.8 150.2 296.1 152.2 297.3 153.7 298.5 155.5 300.3 156.5 301.8 157.2 303.3 158.3 306.8 158.9 309.8 158.9 313.8 158.0 317.3 156.1 322.8 154.5 325.3 152.7 327.0 151.2 327.9 147.7 329.1 145.2 329.6 141.2 329.4 136.7 327.9 134.2 326.6 131.9 324.8 130.2 322.5 129.4 320.8 127.9 316.3 127.4 313.8 127.5 307.3 128.1 304.3 129.4 299.8 129.3 297.8 128.2 294.4 127.6 293.3 127.1 292.8 124.5 291.3 123.2 290.1 121.7 288.3 120.2 285.8 119.2 283.3 118.2 279.8 117.9 277.8 117.9 275.3 118.2 272.8 119.4 269.3 120.1 267.8 121.4 265.8 122.7 264.5 124.2 263.4 126.2 262.5Z"/>
<path fill="#4e6590" fill-rule="evenodd" d="M128.7 264.7 130.2 264.5 132.2 264.5 134.7 265.2 137.7 266.8 138.8 267.8 139.7 269.1 140.6 270.8 141.3 272.8 141.9 275.3 142.0 276.8 141.9 279.8 141.2 282.8 140.4 284.8 138.8 287.3 138.5 288.3 138.6 289.8 140.2 294.8 140.7 295.8 141.7 296.5 145.2 297.3 147.7 298.2 149.7 299.2 151.4 300.3 152.7 301.5 153.7 302.9 154.5 304.3 155.2 306.3 156.0 309.8 156.0 313.3 155.3 316.3 154.0 320.3 153.0 322.3 151.4 324.3 150.2 325.2 147.7 326.1 145.2 326.6 141.7 326.5 138.7 325.6 136.2 324.4 134.2 323.0 132.9 321.3 132.1 319.8 130.9 316.3 130.4 313.8 130.4 307.3 131.1 304.3 132.7 299.3 132.4 296.8 131.0 292.3 130.5 291.3 129.7 290.6 126.9 289.3 125.7 288.5 124.7 287.5 123.6 285.8 121.9 282.3 121.1 279.3 120.9 277.8 121.0 273.8 121.7 271.3 122.6 269.3 124.0 267.3 125.1 266.3 126.7 265.4Z"/>
<path fill="#495978" fill-rule="evenodd" d="M128.7 267.7 130.2 267.4 132.2 267.4 133.7 267.9 135.4 268.8 136.7 269.9 137.6 271.3 138.3 272.8 138.9 274.8 139.1 276.8 139.1 279.3 138.1 282.8 137.2 284.4 135.7 286.1 134.2 287.2 132.7 287.7 131.7 287.8 130.2 287.6 128.7 287.0 127.6 286.3 126.7 285.3 125.2 282.8 124.6 281.3 124.0 279.3 123.8 277.8 123.8 274.8 124.0 273.3 124.5 271.8 126.2 269.2 127.3 268.3ZM137.2 299.8 138.7 299.4 140.7 299.4 144.2 300.0 146.2 300.6 147.7 301.3 149.9 302.8 150.8 303.8 151.8 305.3 152.5 307.3 153.1 309.8 153.0 313.8 152.2 316.9 151.2 319.6 149.8 321.8 148.5 322.8 146.7 323.5 145.2 323.7 142.7 323.7 140.7 323.3 138.3 322.3 136.8 321.3 135.7 320.2 134.7 318.6 133.7 315.9 133.3 314.3 133.3 307.3 134.0 304.3 134.7 302.5 135.9 300.8Z"/>
<rect x="48.70" y="250.80" width="5.50" height="123.20" fill="#4c72b0" fill-opacity="1.00"/>
<rect x="48.70" y="374.80" width="5.50" height="1.50" fill="#4c72b0" fill-opacity="0.80"/>
<rect x="48.70" y="377.00" width="5.50" height="1.20" fill="#4c72b0" fill-opacity="0.80"/>
<rect x="48.70" y="378.90" width="5.50" height="2.40" fill="#4c72b0" fill-opacity="1.00"/>
<rect x="48.70" y="382.00" width="5.50" height="2.00" fill="#4c72b0" fill-opacity="0.90"/>
<rect x="48.70" y="384.70" width="5.50" height="2.10" fill="#4c72b0" fill-opacity="1.00"/>
<rect x="48.70" y="387.50" width="5.50" height="3.10" fill="#4c72b0" fill-opacity="1.00"/>
<rect x="70.00" y="410.90" width="3.00" height="4.00" fill="#4c72b0" fill-opacity="1.00"/>
<rect x="76.00" y="410.90" width="123.60" height="4.00" fill="#4c72b0" fill-opacity="1.00"/>
<rect x="201.30" y="410.90" width="11.40" height="4.00" fill="#4c72b0" fill-opacity="0.85"/>
<rect x="214.40" y="410.90" width="1.30" height="4.00" fill="#4c72b0" fill-opacity="1.00"/>
<rect x="220.00" y="410.90" width="8.30" height="4.00" fill="#4c72b0" fill-opacity="0.85"/>
<rect x="229.60" y="410.90" width="0.80" height="4.00" fill="#4c72b0" fill-opacity="1.00"/>
<rect x="231.00" y="410.90" width="11.20" height="4.00" fill="#4c72b0" fill-opacity="0.85"/>
<rect x="246.00" y="410.90" width="0.80" height="4.00" fill="#4c72b0" fill-opacity="1.00"/>
</g>
<text x="70.40" y="429.10" text-anchor="middle" class="tk">50</text>
<text x="96.00" y="429.10" text-anchor="middle" class="tk">100</text>
<text x="121.60" y="429.10" text-anchor="middle" class="tk">150</text>
<text x="147.20" y="429.10" text-anchor="middle" class="tk">200</text>
<text x="172.80" y="429.10" text-anchor="middle" class="tk">250</text>
<text x="198.40" y="429.10" text-anchor="middle" class="tk">300</text>
<text x="224.00" y="429.10" text-anchor="middle" class="tk">350</text>
<text x="249.60" y="429.10" text-anchor="middle" class="tk">400</text>
<text x="39.90" y="267.20" text-anchor="end" class="tk">14000</text>
<text x="39.90" y="306.50" text-anchor="end" class="tk">12000</text>
<text x="39.90" y="345.80" text-anchor="end" class="tk">10000</text>
<text x="39.90" y="385.10" text-anchor="end" class="tk">8000</text>
<text x="143.70" y="440.00" class="lb" textLength="51.8" lengthAdjust="spacingAndGlyphs">rain_3m (mm)</text>
<text transform="translate(13.00,336.40) rotate(-90)" x="0" y="0" class="lb" textLength="72.8" lengthAdjust="spacingAndGlyphs" xml:space="preserve">production   (Kg/ha)</text>
<text x="144.80" y="237.80" class="letb">c</text>
<rect x="326.20" y="227.00" width="216.80" height="185.50" fill="#eaeaf2"/>
<g clip-path="url(#clipd)">
<rect x="342.30" y="227.00" width="1.00" height="185.50" fill="#fff"/>
<rect x="386.88" y="227.00" width="1.00" height="185.50" fill="#fff"/>
<rect x="431.45" y="227.00" width="1.00" height="185.50" fill="#fff"/>
<rect x="476.03" y="227.00" width="1.00" height="185.50" fill="#fff"/>
<rect x="520.60" y="227.00" width="1.00" height="185.50" fill="#fff"/>
<rect x="326.20" y="264.80" width="216.80" height="1.00" fill="#fff"/>
<rect x="326.20" y="303.50" width="216.80" height="1.00" fill="#fff"/>
<rect x="326.20" y="342.20" width="216.80" height="1.00" fill="#fff"/>
<rect x="326.20" y="380.90" width="216.80" height="1.00" fill="#fff"/>
<path fill="#b1bfe1" fill-rule="evenodd" d="M397.2 242.4 398.7 242.3 404.2 242.2 407.2 242.7 410.2 242.8 413.7 243.4 416.7 244.2 419.8 245.5 423.9 248.5 428.2 253.4 432.8 260.5 436.5 267.5 437.5 269.0 438.7 270.1 441.2 271.5 444.2 272.5 446.7 273.2 451.3 274.0 455.7 275.2 458.7 276.2 463.2 278.5 466.2 280.7 467.7 282.0 473.2 287.5 476.1 291.0 483.1 300.0 484.7 302.5 487.4 308.0 488.1 310.0 489.1 314.0 489.7 319.0 489.8 325.5 488.9 331.0 487.7 335.5 486.2 338.8 484.7 341.3 482.7 343.4 481.2 344.4 472.7 349.0 468.7 351.4 464.8 354.0 453.2 363.0 451.6 364.0 448.5 365.5 444.7 366.8 440.2 367.7 431.7 367.9 427.2 367.3 422.2 366.2 418.7 365.6 408.7 364.6 404.7 364.5 401.2 364.1 395.2 364.7 392.7 365.4 388.7 366.9 387.2 367.7 385.2 369.1 383.9 370.5 376.2 380.6 375.2 381.5 373.2 382.9 370.8 384.0 369.2 384.3 365.2 384.4 363.2 384.1 360.2 383.0 357.8 381.5 354.8 379.0 352.7 376.4 351.7 374.7 350.2 370.5 349.3 364.5 349.8 359.5 350.2 357.6 350.7 356.1 352.2 353.1 354.5 350.5 359.2 347.1 360.1 346.0 360.8 344.5 361.4 342.0 362.4 336.5 365.2 317.0 365.7 312.5 365.6 305.0 363.7 294.0 362.5 282.5 362.5 268.5 363.1 264.0 364.2 258.5 365.2 255.9 366.7 253.4 368.7 251.5 371.7 249.7 376.2 247.9 382.7 245.9 389.7 244.0Z"/>
<path fill="#9ab0e0" fill-rule="evenodd" d="M402.2 247.5 404.2 247.3 410.2 248.0 413.7 249.1 417.2 251.1 420.8 254.0 423.7 257.1 426.7 261.6 432.5 272.0 434.6 275.0 436.7 277.0 438.2 278.1 441.2 279.5 451.6 283.0 456.2 285.3 460.2 287.8 467.2 293.0 471.2 296.4 472.2 297.5 475.7 302.5 478.2 307.1 480.3 312.0 481.3 316.0 481.7 318.0 481.6 323.5 480.2 329.5 479.2 331.9 477.8 334.5 476.6 336.0 475.1 337.5 471.6 340.0 465.6 343.5 455.7 348.4 451.7 350.0 441.2 353.7 434.7 355.3 429.7 355.3 426.2 355.7 421.7 355.7 418.2 355.3 410.7 355.2 403.2 354.0 396.7 352.6 392.7 351.2 387.7 348.7 386.1 347.5 384.6 346.0 383.3 344.0 382.4 342.0 381.3 338.5 379.5 331.5 371.7 291.5 369.1 280.5 368.5 275.0 368.5 269.0 368.7 266.5 369.8 261.5 371.4 258.0 373.2 255.8 376.2 253.7 380.7 251.4 385.7 249.9 394.7 248.2 398.7 247.7Z"/>
<path fill="#80a0de" fill-rule="evenodd" d="M396.2 251.9 403.2 251.7 406.7 251.9 409.7 252.8 411.7 254.1 413.7 256.0 421.3 265.5 426.4 272.5 430.7 279.0 433.5 282.5 435.8 285.0 438.7 287.5 440.7 288.8 445.7 291.5 447.7 292.9 449.3 294.5 451.0 297.0 452.4 300.5 453.8 304.5 455.0 310.0 455.2 319.5 454.6 323.5 453.2 328.5 452.1 331.0 450.9 333.0 448.0 336.5 445.2 338.6 442.7 340.2 439.2 341.9 436.2 343.0 433.2 343.8 427.7 344.7 423.2 344.9 420.2 345.3 417.2 344.9 412.7 344.8 408.2 344.2 403.7 343.2 400.7 342.2 395.7 340.2 393.7 339.2 391.7 337.7 390.5 336.5 389.6 335.0 387.9 331.0 386.5 326.5 383.1 312.5 378.8 292.5 378.0 289.5 375.9 283.5 375.2 281.0 374.8 278.0 374.8 271.5 376.0 264.5 376.6 262.5 378.0 260.0 380.4 257.5 383.2 255.4 386.7 253.8 390.2 252.9ZM463.2 320.4 464.2 320.0 465.7 320.1 466.7 320.5 467.6 321.5 467.9 322.5 467.9 324.0 467.5 325.0 466.7 325.9 465.7 326.3 464.2 326.3 462.7 325.5 461.9 324.5 461.6 323.5 461.8 322.0 462.4 321.0Z"/>
<path fill="#6791d9" fill-rule="evenodd" d="M401.2 256.0 403.7 255.8 406.7 256.3 408.7 256.9 411.2 258.3 414.2 261.4 417.0 265.0 419.6 269.0 429.2 286.9 431.1 290.0 435.5 296.5 437.3 300.5 438.1 303.5 439.0 308.0 440.2 315.5 440.2 321.5 440.0 324.0 438.9 328.0 437.5 330.5 434.7 333.1 430.2 335.3 427.7 336.1 424.2 336.7 417.2 336.8 410.2 336.2 406.7 335.6 403.2 334.6 400.1 333.0 398.0 331.5 397.1 330.5 395.6 328.5 394.7 326.9 393.0 323.5 391.3 319.5 389.4 313.0 384.2 291.5 383.2 288.6 380.6 283.0 379.7 280.5 379.0 276.5 379.1 274.0 380.0 269.5 381.4 265.5 383.6 261.5 385.5 259.5 388.2 258.0 391.7 256.9 395.7 256.3Z"/>
<path fill="#5b84ca" fill-rule="evenodd" d="M396.2 260.0 398.7 259.7 403.7 259.7 405.7 259.9 407.7 260.3 409.7 261.1 411.7 262.2 412.7 263.0 415.2 265.7 417.2 269.1 424.7 284.7 426.6 289.0 429.3 296.0 431.0 301.5 432.4 309.0 433.0 313.5 433.0 317.0 432.3 321.0 430.8 324.0 428.7 326.3 427.0 327.5 425.2 328.4 421.7 329.6 418.2 330.2 416.7 330.2 412.7 329.7 410.7 329.3 405.7 327.5 402.2 325.3 399.2 322.2 395.7 317.0 393.2 312.3 389.7 303.0 383.8 283.0 383.0 279.0 383.0 275.0 383.6 271.5 384.6 268.5 386.1 266.0 387.7 264.0 389.3 262.5 391.2 261.3 393.2 260.6Z"/>
<path fill="#567ab7" fill-rule="evenodd" d="M398.2 262.5 403.2 262.2 406.7 262.6 409.7 263.7 411.0 264.5 412.2 265.6 414.3 268.5 415.9 271.5 422.7 289.5 425.1 296.5 426.5 302.0 427.4 307.5 427.3 314.0 426.6 317.0 425.3 319.5 423.2 321.5 421.6 322.5 420.2 323.2 416.7 324.1 414.2 324.1 412.2 323.8 410.2 323.2 408.2 322.3 406.1 321.0 404.3 319.5 401.1 315.5 397.7 310.0 392.7 299.5 390.2 293.5 388.5 288.5 386.9 282.0 386.5 277.5 387.0 272.5 388.4 269.0 389.3 267.5 390.7 266.0 392.7 264.4 394.2 263.5 396.2 262.9Z"/>
<path fill="#526fa4" fill-rule="evenodd" d="M400.2 263.9 403.2 263.7 405.5 264.0 408.2 265.0 409.7 266.0 411.2 267.7 413.2 270.6 415.0 274.5 416.4 278.5 416.9 281.0 417.3 288.0 417.8 289.5 420.5 295.0 421.4 297.5 422.5 302.5 422.7 306.5 422.6 308.0 422.1 310.0 421.5 311.5 420.3 313.5 419.2 314.9 417.7 316.3 416.7 317.0 415.2 317.6 413.7 317.9 412.2 318.0 409.2 317.1 407.2 316.0 404.2 313.0 401.9 309.5 398.5 302.5 393.5 295.0 392.2 292.3 390.9 288.5 389.7 284.0 389.0 279.5 389.1 275.0 390.3 270.5 391.7 268.0 394.2 265.9 396.2 264.9Z"/>
<path fill="#4e6590" fill-rule="evenodd" d="M400.2 266.0 402.2 265.7 404.2 265.8 406.2 266.5 408.2 267.7 410.0 270.0 411.0 271.5 413.0 275.5 414.2 279.0 414.5 281.0 414.7 288.6 415.5 291.0 418.2 296.5 419.0 298.5 419.9 302.5 420.0 306.0 419.6 308.5 419.0 310.0 417.8 312.0 416.0 314.0 414.7 314.7 413.7 315.1 412.7 315.2 411.7 315.1 409.7 314.3 407.8 313.0 406.0 311.0 404.4 308.5 401.1 301.5 395.4 293.5 394.2 291.0 392.9 287.5 392.1 284.0 391.4 279.5 391.4 275.5 392.1 272.5 393.2 270.0 394.7 268.3 397.2 266.8Z"/>
<path fill="#495978" fill-rule="evenodd" d="M400.7 268.4 402.7 268.2 404.2 268.3 405.7 268.9 406.7 269.7 408.2 271.5 409.2 273.3 410.7 276.4 411.7 279.2 412.0 281.0 412.1 287.5 412.3 289.5 413.2 292.0 416.4 298.5 416.9 300.0 417.5 303.5 417.5 306.5 417.0 308.5 415.2 311.4 413.7 312.5 412.7 312.7 411.2 312.3 409.7 311.5 408.2 310.0 406.6 307.5 404.6 303.0 403.0 300.0 397.7 292.7 396.7 290.6 395.5 287.5 394.6 284.0 393.9 280.0 393.9 276.0 394.2 274.0 395.1 271.5 396.2 270.2 398.2 269.1Z"/>
<rect x="326.20" y="251.30" width="5.80" height="126.20" fill="#4c72b0" fill-opacity="1.00"/>
<rect x="326.20" y="378.30" width="5.80" height="2.20" fill="#4c72b0" fill-opacity="0.85"/>
<rect x="326.20" y="381.30" width="5.80" height="2.20" fill="#4c72b0" fill-opacity="0.85"/>
<rect x="326.20" y="384.30" width="5.80" height="5.00" fill="#4c72b0" fill-opacity="1.00"/>
<rect x="349.00" y="408.20" width="132.00" height="4.30" fill="#4c72b0" fill-opacity="1.00"/>
<rect x="481.00" y="408.20" width="9.00" height="4.30" fill="#4c72b0" fill-opacity="0.80"/>
<rect x="492.90" y="408.20" width="6.10" height="4.30" fill="#4c72b0" fill-opacity="1.00"/>
<rect x="500.00" y="408.20" width="2.00" height="4.30" fill="#4c72b0" fill-opacity="1.00"/>
<rect x="505.30" y="408.20" width="4.40" height="4.30" fill="#4c72b0" fill-opacity="1.00"/>
<rect x="513.50" y="408.20" width="1.50" height="4.30" fill="#4c72b0" fill-opacity="1.00"/>
<rect x="516.30" y="408.20" width="3.30" height="4.30" fill="#4c72b0" fill-opacity="1.00"/>
</g>
<text x="342.80" y="426.30" text-anchor="middle" class="tk">0</text>
<text x="387.38" y="426.30" text-anchor="middle" class="tk">100</text>
<text x="431.95" y="426.30" text-anchor="middle" class="tk">200</text>
<text x="476.53" y="426.30" text-anchor="middle" class="tk">300</text>
<text x="521.10" y="426.30" text-anchor="middle" class="tk">400</text>
<text x="317.00" y="267.20" text-anchor="end" class="tk">14000</text>
<text x="317.00" y="305.90" text-anchor="end" class="tk">12000</text>
<text x="317.00" y="344.60" text-anchor="end" class="tk">10000</text>
<text x="317.00" y="383.30" text-anchor="end" class="tk">8000</text>
<text x="419.20" y="436.20" class="lb" textLength="51.2" lengthAdjust="spacingAndGlyphs">rain_4m (mm)</text>
<text transform="translate(290.70,339.20) rotate(-90)" x="0" y="0" class="lb" textLength="67.0" lengthAdjust="spacingAndGlyphs" xml:space="preserve">production (Kg/ha)</text>
<text x="416.00" y="237.70" class="let">d</text>
</svg>
</body></html>
